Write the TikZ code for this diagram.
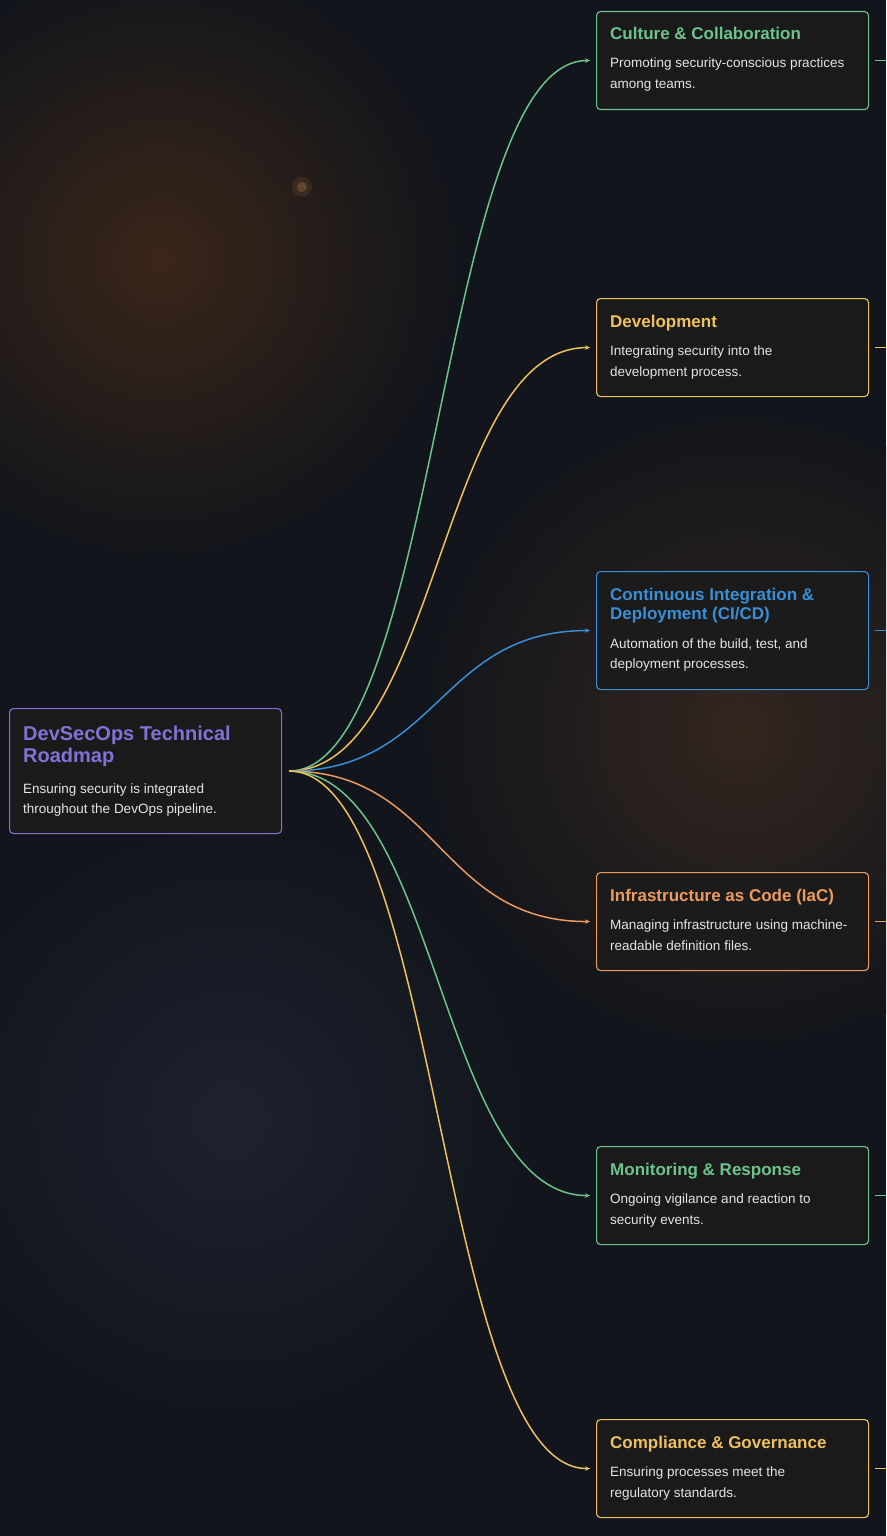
\documentclass[tikz,border=0pt]{standalone}
\usepackage{fontspec}
\setmainfont{Liberation Sans}
\usetikzlibrary{arrows.meta,calc}
\definecolor{bg}{HTML}{12151B}
\definecolor{boxfill}{HTML}{1B1B1C}
\definecolor{cgreen}{HTML}{6CC48C}
\definecolor{cyellow}{HTML}{EEC15C}
\definecolor{cblue}{HTML}{3A8ED6}
\definecolor{corange}{HTML}{EC9A5E}
\definecolor{cpurple}{HTML}{8470D6}
\definecolor{ctext}{HTML}{E4E4E4}
\definecolor{glowA}{HTML}{3A2619}
\definecolor{glowB}{HTML}{33261F}
\definecolor{glowC}{HTML}{1E2230}
\definecolor{spot}{HTML}{B07A48}
\begin{document}
\begin{tikzpicture}[x=1pt,y=-1pt,
  box/.style={draw=#1, rounded corners=4pt, fill=boxfill, fill opacity=0.93, line width=1.1pt,
    minimum width=272pt, minimum height=98pt, anchor=north west, inner sep=0pt},
  ttl/.style={anchor=base west, inner sep=0pt, text=#1, font=\fontsize{17}{20}\selectfont\bfseries},
  bdy/.style={anchor=base west, inner sep=0pt, text=ctext, font=\fontsize{13.5}{20}\selectfont},
  link/.style={draw=#1, line width=1.5pt, -{Stealth[length=5pt,width=4.5pt]}},
  stub/.style={draw=#1, line width=1.5pt}
]
\useasboundingbox (0,0) rectangle (886,1536);
\clip (0,0) rectangle (886,1536);
\fill[bg] (0,0) rectangle (886,1536);
% background glows
\shade[inner color=glowA, outer color=bg] (160,260) circle (300);
\shade[inner color=glowB, outer color=bg] (740,730) circle (320);
\shade[inner color=glowC, outer color=bg] (230,1120) circle (300);
\fill[spot, opacity=0.15] (302,187) circle (10);
\fill[spot, opacity=0.35] (302,187) circle (5);

% root
\node[box=cpurple, minimum height=125pt] (root) at (9,708) {};
\node[ttl=cpurple, font=\fontsize{20}{22}\selectfont\bfseries] (root-t1) at (23,740) {DevSecOps Technical};
\node[ttl=cpurple, font=\fontsize{20}{22}\selectfont\bfseries] (root-t2) at (23,762) {Roadmap};
\node[bdy] (root-b1) at (23,793) {Ensuring security is integrated};
\node[bdy] (root-b2) at (23,813) {throughout the DevOps pipeline.};

% culture
\node[box=cgreen] (cult) at (596,11) {};
\node[ttl=cgreen] (cult-t) at (610,40) {Culture \& Collaboration};
\node[bdy] (cult-b1) at (610,68) {Promoting security-conscious practices};
\node[bdy] (cult-b2) at (610,89) {among teams.};

% development
\node[box=cyellow] (dev) at (596,298) {};
\node[ttl=cyellow] (dev-t) at (610,327) {Development};
\node[bdy] (dev-b1) at (610,355) {Integrating security into the};
\node[bdy] (dev-b2) at (610,376) {development process.};

% CI/CD
\node[box=cblue, minimum height=118pt] (cicd) at (596,571) {};
\node[ttl=cblue] (cicd-t1) at (610,600) {Continuous Integration \&};
\node[ttl=cblue] (cicd-t2) at (610,619) {Deployment (CI/CD)};
\node[bdy] (cicd-b1) at (610,648) {Automation of the build, test, and};
\node[bdy] (cicd-b2) at (610,668) {deployment processes.};

% IaC
\node[box=corange] (iac) at (596,872) {};
\node[ttl=corange] (iac-t) at (610,901) {Infrastructure as Code (IaC)};
\node[bdy] (iac-b1) at (610,929) {Managing infrastructure using machine-};
\node[bdy] (iac-b2) at (610,950) {readable definition files.};

% Monitoring
\node[box=cgreen] (mon) at (596,1146) {};
\node[ttl=cgreen] (mon-t) at (610,1175) {Monitoring \& Response};
\node[bdy] (mon-b1) at (610,1203) {Ongoing vigilance and reaction to};
\node[bdy] (mon-b2) at (610,1224) {security events.};

% Compliance
\node[box=cyellow] (comp) at (596,1419) {};
\node[ttl=cyellow] (comp-t) at (610,1448) {Compliance \& Governance};
\node[bdy] (comp-b1) at (610,1476) {Ensuring processes meet the};
\node[bdy] (comp-b2) at (610,1497) {regulatory standards.};

% connectors
\coordinate (rs) at ([xshift=7pt]root.east);
\coordinate (mx) at (439,0);
\coordinate (edge) at (886,0);
\foreach \n/\c in {cult/cgreen, dev/cyellow, cicd/cblue, iac/corange, mon/cgreen, comp/cyellow}{
  \coordinate (\n-in) at ([xshift=-6pt]\n.west);
  \draw[link=\c] (rs) .. controls (mx |- rs) and (mx |- \n-in) .. (\n-in);
  \coordinate (\n-out) at ([xshift=6pt]\n.east);
  \draw[stub=\c] (\n-out) -- (edge |- \n-out);
}
\end{tikzpicture}
\end{document}
